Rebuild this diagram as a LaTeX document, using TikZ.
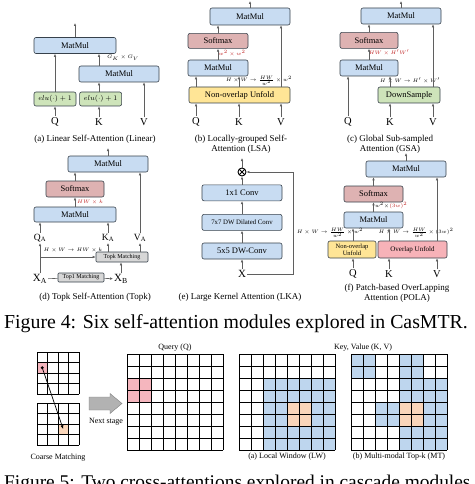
\documentclass[tikz,border=0pt]{standalone}
\usepackage{fontspec}
\setmainfont{Liberation Serif}
\usetikzlibrary{arrows.meta,positioning,calc}
\definecolor{matmulColor}{RGB}{200,220,242}
\definecolor{softmaxColor}{RGB}{222,178,178}
\definecolor{eluColor}{RGB}{206,228,186}
\definecolor{unfoldColor}{RGB}{255,229,150}
\definecolor{overlapColor}{RGB}{247,178,184}
\definecolor{matchColor}{RGB}{215,215,215}
\definecolor{lineColor}{RGB}{95,95,95}
\definecolor{edgeColor}{RGB}{55,65,75}
\definecolor{cellRed}{RGB}{245,182,190}
\definecolor{cellBlue}{RGB}{190,214,238}
\definecolor{cellOrange}{RGB}{250,214,186}
\definecolor{blockColor}{RGB}{178,178,178}
\definecolor{dimRed}{RGB}{190,30,30}
\tikzset{box/.style={draw=edgeColor, line width=0.6pt, rounded corners=2pt, align=center, inner sep=0pt, font=\fontsize{8.5}{9}\selectfont}}
\tikzset{matmul/.style={box, fill=matmulColor, minimum width=80pt, minimum height=16pt}}
\tikzset{softmax/.style={box, fill=softmaxColor, minimum width=59pt, minimum height=16pt}}
\tikzset{elubox/.style={box, fill=eluColor, minimum width=42pt, minimum height=14pt, font=\fontsize{7}{8}\selectfont}}
\tikzset{unfoldbox/.style={box, fill=unfoldColor, minimum height=16pt}}
\tikzset{matchbox/.style={box, fill=matchColor, rounded corners=1pt, font=\fontsize{6}{6.5}\selectfont}}
\tikzset{inlabel/.style={inner sep=1pt, font=\fontsize{10.5}{11}\selectfont}}
\tikzset{dimlabel/.style={inner sep=0pt, font=\fontsize{5}{5.5}\selectfont}}
\tikzset{subcap/.style={align=center, inner sep=0pt, font=\fontsize{9}{10.5}\selectfont}}
\tikzset{gridlabel/.style={inner sep=0pt, font=\fontsize{8}{9}\selectfont}}
\tikzset{gridcells/.style={draw=black, line width=0.9pt}}
\tikzstyle{arrow} = [-{Latex[length=3pt,width=2.6pt]}, draw=lineColor, line width=0.6pt]

\begin{document}
\begin{tikzpicture}[x=1pt, y=1pt]
	\useasboundingbox (0,0) rectangle (474,-484);

	% (a) Linear
	\node (qLin) [inlabel] at (55,-122) {Q};
	\node (kLin) [inlabel] at (99,-122) {K};
	\node (vLin) [inlabel] at (144,-122) {V};
	\node (eluQ) [elubox] at (55,-99) {$elu(\cdot)+1$};
	\node (eluK) [elubox, right=3pt of eluQ] {$elu(\cdot)+1$};
	\node (kvLin) [matmul] at (119,-74) {MatMul};
	\node (outLin) [matmul, minimum width=82pt] at (75,-45.5) {MatMul};
	\coordinate (topLin) at (75,-23);
	\node (gLin) [dimlabel] at (123,-58) {$G_K\times G_V$};
	\node (capLin) [subcap] at (95,-139) {(a) Linear Self-Attention (Linear)};

	\draw [arrow] (qLin) -- (eluQ);
	\draw [arrow] (kLin) -- (kLin |- eluK.south);
	\draw [arrow] (eluQ) -- (outLin.south -| eluQ);
	\draw [arrow] (eluK.north -| kLin) -- (kvLin.south -| kLin);
	\draw [arrow] (vLin) -- (kvLin.south -| vLin);
	\draw [arrow] (kvLin.north -| kLin) -- (outLin.south -| kLin);
	\draw [arrow] (outLin) -- (topLin);

	% (b) LSA
	\node (qLoc) [inlabel] at (196,-122) {Q};
	\node (kLoc) [inlabel] at (239,-122) {K};
	\node (vLoc) [inlabel] at (281,-122) {V};
	\node (unfoldLoc) [unfoldbox, minimum width=101pt] at (239.5,-95) {Non-overlap Unfold};
	\node (qkLoc) [matmul, minimum width=60pt] at (218,-68) {MatMul};
	\node (smLoc) [softmax, minimum width=60pt, minimum height=15pt, above=11pt of qkLoc] {Softmax};
	\node (outLoc) [matmul, minimum height=17pt] at (250,-16.5) {MatMul};
	\coordinate (topLoc) at (250,-1);
	\node (wLoc) [dimlabel, text=dimRed] at (232,-53) {$w^2\times w^2$};
	\node (hwLoc) [dimlabel] at (259,-80.5) {$H\times W\rightarrow\frac{HW}{w^2}\times w^2$};
	\node (capLoc) [subcap] at (241,-144.5) {(b) Locally-grouped Self-\\Attention (LSA)};

	\draw [arrow] (qLoc) -- (unfoldLoc.south -| qLoc);
	\draw [arrow] (kLoc) -- (unfoldLoc.south -| kLoc);
	\draw [arrow] (vLoc) -- (unfoldLoc.south -| vLoc);
	\draw [arrow] (unfoldLoc.north -| qLoc) -- (qkLoc.south -| qLoc);
	\draw [arrow] (unfoldLoc.north -| kLoc) -- (qkLoc.south -| kLoc);
	\draw [arrow] (qkLoc) -- (smLoc);
	\draw [arrow] (smLoc) -- (outLoc.south -| smLoc);
	\draw [arrow] (unfoldLoc.north -| vLoc) -- (outLoc.south -| vLoc);
	\draw [arrow] (outLoc) -- (topLoc);

	% (c) GSA
	\node (qGlo) [inlabel] at (348,-122) {Q};
	\node (kGlo) [inlabel] at (390,-122) {K};
	\node (vGlo) [inlabel] at (433,-122) {V};
	\node (downGlo) [box, fill=eluColor, minimum width=62pt, minimum height=16pt] at (409,-95) {DownSample};
	\node (qkGlo) [matmul, minimum width=58pt] at (369,-68) {MatMul};
	\node (smGlo) [softmax, minimum width=58pt, above=11pt of qkGlo] {Softmax};
	\node (outGlo) [matmul] at (401,-16) {MatMul};
	\coordinate (topGlo) at (401,-1);
	\node (wGlo) [dimlabel, text=dimRed] at (389,-53) {$HW\times H'W'$};
	\node (hwGlo) [dimlabel] at (410,-81) {$H\times W\rightarrow H'\times W'$};
	\node (capGlo) [subcap] at (390,-144.5) {(c) Global Sub-sampled\\Attention (GSA)};

	\draw [arrow] (qGlo) -- (qkGlo.south -| qGlo);
	\draw [arrow] (kGlo) -- (downGlo.south -| kGlo);
	\draw [arrow] (vGlo) -- (downGlo.south -| vGlo);
	\draw [arrow] (downGlo.north -| kGlo) -- (qkGlo.south -| kGlo);
	\draw [arrow] (qkGlo) -- (smGlo);
	\draw [arrow] (smGlo) -- (outGlo.south -| smGlo);
	\draw [arrow] (downGlo.north -| vGlo) -- (outGlo.south -| vGlo);
	\draw [arrow] (outGlo) -- (topGlo);

	% (d) Topk
	\node (outTop) [matmul] at (108,-164) {MatMul};
	\coordinate (topTop) at (108,-148);
	\node (smTop) [softmax, minimum width=58pt] at (75,-189) {Softmax};
	\node (qkTop) [matmul, minimum width=82pt, minimum height=15pt] at (75,-214.5) {MatMul};
	\node (qTop) [inlabel, font=\fontsize{9.5}{10}\selectfont] at (40,-238) {Q\textsubscript{A}};
	\node (kTop) [inlabel, font=\fontsize{9.5}{10}\selectfont] at (108,-238) {K\textsubscript{A}};
	\node (vTop) [inlabel, font=\fontsize{9.5}{10}\selectfont] at (140,-238) {V\textsubscript{A}};
	\node (topkTop) [matchbox, minimum width=52pt, minimum height=10pt] at (122,-257) {Topk Matching};
	\node (xaTop) [inlabel, font=\fontsize{11}{12}\selectfont] at (40,-279) {X\textsubscript{A}};
	\node (xbTop) [inlabel, font=\fontsize{11}{12}\selectfont] at (121,-279) {X\textsubscript{B}};
	\node (top1Top) [matchbox, minimum width=46pt, minimum height=9pt] at (81,-277.5) {Top1 Matching};
	\node (wTop) [dimlabel, text=dimRed] at (90,-202) {$HW\times k$};
	\node (hwTop) [dimlabel] at (73,-250) {$H\times W\rightarrow HW\times k$};
	\node (capTop) [subcap] at (95,-297) {(d) Topk Self-Attention (Topk)};

	\draw [arrow] (xaTop.north -| qTop.south) -- (qTop.south);
	\draw [arrow] (topkTop.west -| qTop.south) -- (topkTop.west);
	\draw [draw=lineColor, line width=0.6pt] (xaTop) -- (top1Top);
	\draw [arrow] (top1Top) -- (xbTop);
	\draw [arrow] (xbTop) -- (xbTop |- topkTop.south);
	\draw [arrow] (topkTop.north -| kTop) -- (kTop);
	\draw [arrow] (topkTop.north -| vTop) -- (vTop);
	\draw [arrow] (qTop) -- (qkTop.south -| qTop);
	\draw [arrow] (kTop) -- (qkTop.south -| kTop);
	\draw [arrow] (qkTop) -- (smTop);
	\draw [arrow] (smTop) -- (outTop.south -| smTop);
	\draw [arrow] (vTop) -- (outTop.south -| vTop);
	\draw [arrow] (outTop) -- (topTop);

	% (e) LKA
	\node (xLka) [inlabel, font=\fontsize{11}{12}\selectfont] at (242,-274) {X};
	\node (dw5) [matmul] at (242,-251) {5x5 DW-Conv};
	\node (dw7) [matmul, above=12pt of dw5, font=\fontsize{6.8}{7}\selectfont] {7x7 DW Dilated Conv};
	\node (pw1) [matmul, above=13pt of dw7] {1x1 Conv};
	\node (mulLka) [circle, draw, line width=0.9pt, inner sep=0pt, minimum size=8pt,
		path picture={\draw[line width=0.9pt] (path picture bounding box.north west) -- (path picture bounding box.south east)
		(path picture bounding box.north east) -- (path picture bounding box.south west);}] at (242,-172) {};
	\coordinate (topLka) at (242,-158);
	\node (capLka) [subcap] at (240,-297) {(e) Large Kernel Attention (LKA)};

	\draw [arrow] (xLka) -- (dw5);
	\draw [arrow] (dw5) -- (dw7);
	\draw [arrow] (dw7) -- (pw1);
	\draw [arrow] (pw1) -- (mulLka);
	\draw [arrow] (mulLka) -- (topLka);
	\draw [arrow] (xLka.east) -- ++(46,0) |- (mulLka.east);

	% (f) POLA
	\node (outPol) [matmul] at (406,-169) {MatMul};
	\coordinate (topPol) at (406,-153);
	\node (smPol) [softmax] at (373.5,-194) {Softmax};
	\node (qkPol) [matmul, minimum width=59pt] at (373.5,-220) {MatMul};
	\node (nonPol) [unfoldbox, minimum width=48pt, minimum height=17pt, font=\fontsize{6.5}{7}\selectfont] at (352,-249.5) {Non-overlap\\Unfold};
	\node (ovPol) [box, fill=overlapColor, minimum width=69pt, minimum height=17pt, font=\fontsize{7}{8}\selectfont] at (412.5,-249.5) {Overlap Unfold};
	\node (qPol) [inlabel] at (353,-274) {Q};
	\node (kPol) [inlabel] at (389,-274) {K};
	\node (vPol) [inlabel] at (437,-274) {V};
	\node (wPol) [dimlabel] at (391,-206) {$w^2\times$\textcolor{dimRed}{$(3w)^2$}};
	\node (hwPolA) [dimlabel] at (330,-233) {$H\times W\rightarrow\frac{HW}{w^2}\times w^2$};
	\node (hwPolB) [dimlabel] at (416,-233) {$H\times W\rightarrow\frac{HW}{w^2}\times(3w)^2$};
	\node (capPol) [subcap] at (397,-293.5) {(f) Patch-based OverLapping\\Attention (POLA)};

	\draw [arrow] (qPol) -- (nonPol.south -| qPol);
	\draw [arrow] (kPol) -- (ovPol.south -| kPol);
	\draw [arrow] (vPol) -- (ovPol.south -| vPol);
	\draw [arrow] (nonPol.north -| qPol) -- (qkPol.south -| qPol);
	\draw [arrow] (ovPol.north -| kPol) -- (qkPol.south -| kPol);
	\draw [arrow] (qkPol) -- (smPol);
	\draw [arrow] (smPol) -- (outPol.south -| smPol);
	\draw [arrow] (ovPol.north -| vPol) -- (outPol.south -| vPol);
	\draw [arrow] (outPol) -- (topPol);

	\node (fig4) [anchor=base west, inner sep=0pt, font=\fontsize{19.8}{22}\selectfont] at (4,-328) {Figure 4: Six self-attention modules explored in CasMTR.};

	% cross-attention grids
	\begin{scope}[shift={(37,-394)}]
		\fill[cellRed] (0,21) rectangle (10.5,31.5);
		\draw[gridcells, step=10.5] (0,0) grid (42,42);
	\end{scope}
	\begin{scope}[shift={(37,-445)}]
		\fill[cellOrange] (21,10.5) rectangle (31.5,21);
		\draw[gridcells, step=10.5] (0,0) grid (42,42);
	\end{scope}
	\coordinate (matchA) at (42.25,-367.75);
	\coordinate (matchB) at (63.25,-429.25);
	\fill (matchA) circle (1.6);
	\draw [-{Latex[length=4pt,width=3pt]}, line width=0.7pt] (matchA) -- (matchB);
	\node (coarseLabel) [gridlabel] at (58,-458) {Coarse Matching};

	\filldraw[fill=blockColor, draw=gray] (89,-397) -- (110,-397) -- (110,-393.5) -- (122,-403.5) -- (110,-413.5) -- (110,-410) -- (89,-410) -- cycle;
	\node (nextLabel) [gridlabel] at (106,-422) {Next stage};

	\begin{scope}[shift={(127,-450)}]
		\fill[cellRed] (0,48) rectangle (24,72);
		\draw[gridcells, step=12] (0,0) grid (96,96);
	\end{scope}
	\node (queryLabel) [gridlabel] at (175,-348) {Query (Q)};

	\begin{scope}[shift={(239,-450)}]
		\fill[cellBlue] (24,0) rectangle (96,72);
		\fill[cellOrange] (48,24) rectangle (72,48);
		\draw[gridcells, step=12] (0,0) grid (96,96);
	\end{scope}
	\begin{scope}[shift={(351,-450)}]
		\fill[cellBlue] (0,72) rectangle (24,96);
		\fill[cellBlue] (48,0) rectangle (72,96);
		\fill[cellBlue] (72,0) rectangle (96,72);
		\fill[cellBlue] (24,24) rectangle (48,48);
		\fill[cellOrange] (48,24) rectangle (72,48);
		\draw[gridcells, step=12] (0,0) grid (96,96);
	\end{scope}
	\node (kvLabel) [gridlabel] at (363,-348) {Key, Value (K, V)};
	\node (lwLabel) [gridlabel] at (287,-457) {(a) Local Window (LW)};
	\node (mtLabel) [gridlabel] at (399,-457) {(b) Multi-modal Top-k (MT)};

	\node (fig5) [anchor=base west, inner sep=0pt, font=\fontsize{19.4}{22}\selectfont] at (4,-488) {Figure 5: Two cross-attentions explored in cascade modules.};
\end{tikzpicture}
\end{document}
